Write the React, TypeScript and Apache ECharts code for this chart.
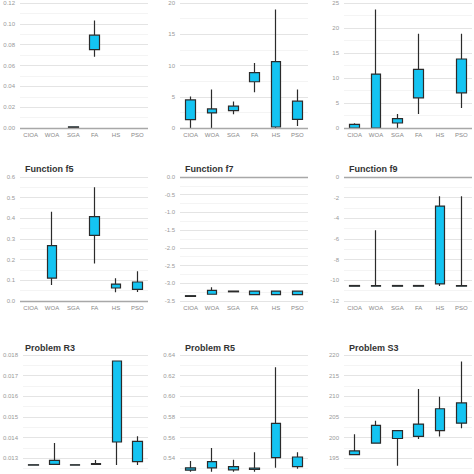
import React, { useEffect, useRef } from "react";
import * as echarts from "echarts";

// Algorithms (x categories)
const categories = ["CIOA", "WOA", "SGA", "FA", "HS", "PSO"];

// Box data per algorithm: [Q1, Q3, min, max]  ('-' = no visible box)
type Box = number[] | "-";
const panelA: Box[] = ["-", "-", [0.0005, 0.0012, 0.0003, 0.0015], [0.0752, 0.0891, 0.0685, 0.1032], "-", "-"];
const panelB: Box[] = [[1.34, 4.5, 0, 5.04], [2.41, 3.06, 0, 6.17], [2.79, 3.49, 2.2, 4.24], [7.4, 8.85, 5.74, 10.4], [0.16, 10.62, 0, 18.98], [1.39, 4.29, 0.32, 6.17]];
const panelC: Box[] = [[0, 0.74, 0, 0.94], [0, 10.79, 0, 23.7], [1.0, 1.88, 0, 2.8], [6.03, 11.73, 2.8, 18.83], "-", [7.04, 13.8, 4.0, 18.83]];
const f5Data: Box[] = ["-", [0.111, 0.268, 0.077, 0.432], "-", [0.318, 0.408, 0.182, 0.55], [0.063, 0.082, 0.042, 0.11], [0.056, 0.092, 0.044, 0.144]];
const f7Data: Box[] = [[-3.35, -3.37, -3.37, -3.35], [-3.31, -3.2, -3.31, -3.11], [-3.22, -3.24, -3.24, -3.22], [-3.32, -3.22, -3.32, -3.22], [-3.32, -3.22, -3.32, -3.22], [-3.32, -3.22, -3.32, -3.22]];
const f9Data: Box[] = [[-10.5, -10.57, -10.57, -10.5], [-10.5, -10.57, -10.57, -5.16], [-10.5, -10.57, -10.57, -10.5], [-10.5, -10.57, -10.57, -10.5], [-10.35, -2.81, -10.54, -1.87], [-10.5, -10.57, -10.57, -1.87]];
const r3Data: Box[] = [[0.01267, 0.01269, 0.01267, 0.01269], [0.01271, 0.0129, 0.01268, 0.01374], [0.01267, 0.01269, 0.01267, 0.01269], [0.01271, 0.01275, 0.01268, 0.01292], [0.01379, 0.01771, 0.01268, 0.01771], [0.01284, 0.01382, 0.01268, 0.01407]];
const r5Data: Box[] = [[0.5285, 0.5308, 0.527, 0.5375], [0.5308, 0.5368, 0.527, 0.5499], [0.5289, 0.532, 0.527, 0.5387], [0.5292, 0.5306, 0.527, 0.546], [0.5406, 0.5738, 0.5308, 0.6282], [0.532, 0.5413, 0.53, 0.546]];
const s3Data: Box[] = [[195.9, 196.8, 195.8, 200.8], [198.66, 202.96, 198.66, 204.1], [199.8, 201.7, 193.2, 201.7], [200.3, 203.3, 199.7, 211.8], [201.7, 207.0, 200.3, 209.9], [203.5, 208.4, 202.3, 218.4]];

// Titles (top row titles are outside the visible crop)
const titles = ["", "", "", "Function f5", "Function f7", "Function f9", "Problem R3", "Problem R5", "Problem S3"];

// Y axis ranges: [min, max, interval, decimals]
const yRanges = [
  [0, 0.12, 0.02, 2],
  [0, 20, 5, 0],
  [0, 25, 5, 0],
  [0, 0.6, 0.1, 1],
  [-3.5, 0, 0.5, 1],
  [-12, 0, 2, 0],
  [0.012, 0.018, 0.001, 3],
  [0.52, 0.64, 0.02, 2],
  [190, 220, 5, 0],
];

const panelData = [panelA, panelB, panelC, f5Data, f7Data, f9Data, r3Data, r5Data, s3Data];

const colLeft = [20, 180, 344];
const rowTop = [3, 177, 355];
const rowHeight = [125, 124, 124];
const titleTop = [-20, 159, 338];
const FONT = "Liberation Sans, Arial, sans-serif";

export default function App() {
  const ref = useRef<HTMLDivElement>(null);
  useEffect(() => {
    if (!ref.current) return;
    const chart = echarts.init(ref.current, undefined, { renderer: "svg" });
    const grid: any[] = [];
    const xAxis: any[] = [];
    const yAxis: any[] = [];
    const series: any[] = [];
    const title: any[] = [];
    panelData.forEach((data, i) => {
      const r = Math.floor(i / 3);
      const c = i % 3;
      const [mn, mx, step, dec] = yRanges[i];
      grid.push({ left: colLeft[c], top: rowTop[r], width: 128, height: rowHeight[r] });
      if (titles[i]) {
        title.push({
          text: titles[i],
          left: colLeft[c],
          top: titleTop[r],
          textStyle: { fontSize: 9, fontWeight: "bold", color: "#333", fontFamily: FONT },
        });
      }
      xAxis.push({
        type: "category",
        gridIndex: i,
        data: categories,
        axisLine: { show: false, onZero: false },
        axisTick: { show: false },
        axisLabel: { show: r < 2, fontSize: 6, color: "#888", margin: 4, fontFamily: FONT },
        splitLine: { show: false },
      });
      yAxis.push({
        type: "value",
        gridIndex: i,
        min: mn,
        max: mx,
        interval: step,
        axisLine: { show: false },
        axisTick: { show: false },
        axisLabel: {
          fontSize: 6,
          color: "#999",
          margin: 5,
          fontFamily: FONT,
          showMinLabel: r < 2,
          formatter: (v: number) => v.toFixed(dec as number),
        },
        splitLine: { lineStyle: { color: "#e4e4e4", width: 1 } },
        minorTick: { show: false, splitNumber: 2 },
        minorSplitLine: { show: true, lineStyle: { color: "#f4f4f4", width: 1 } },
      });
      const hasZero = mn <= 0 && mx >= 0;
      series.push({
        type: "candlestick",
        xAxisIndex: i,
        yAxisIndex: i,
        barWidth: 10,
        data: data,
        itemStyle: {
          color: "#14C4F2",
          color0: "#14C4F2",
          borderColor: "#2b2b2b",
          borderColor0: "#2b2b2b",
          borderWidth: 1.2,
        },
        markLine: hasZero
          ? {
              silent: true,
              symbol: "none",
              label: { show: false },
              lineStyle: { color: "#a8a8a8", width: 1.3, type: "solid" },
              data: [{ yAxis: 0 }],
            }
          : undefined,
      });
    });
    chart.setOption({
      animation: false,
      backgroundColor: "#ffffff",
      textStyle: { fontFamily: FONT },
      title,
      grid,
      xAxis,
      yAxis,
      series,
    });
    return () => chart.dispose();
  }, []);
  return (
    <div
      style={{ position: "fixed", left: 0, top: 0, width: 474, height: 474, overflow: "hidden", background: "#fff" }}
    >
      <div ref={ref} style={{ width: 474, height: 500 }} />
    </div>
  );
}
